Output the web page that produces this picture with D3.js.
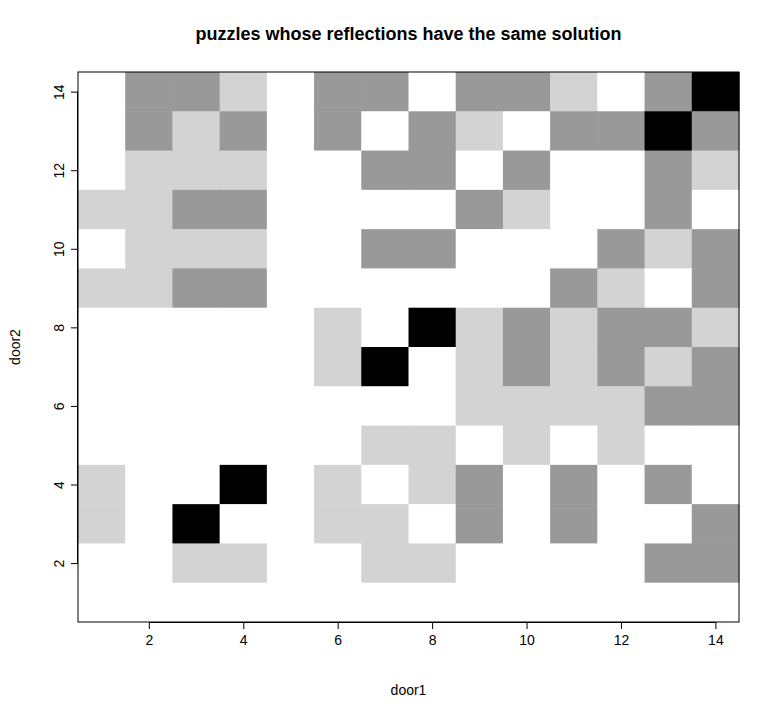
<!DOCTYPE html>
<html><head><meta charset="utf-8">
<script src="https://cdn.jsdelivr.net/npm/d3@7"></script>
<style>body{margin:0;background:#fff;font-family:"Liberation Sans",Arial,sans-serif}</style>
</head><body>
<script>
// rows listed from door2 = 14 down to door2 = 1; 0 white, 1 light, 2 gray, 3 black
const door1 = d3.range(1, 15);
const door2 = d3.range(14, 0, -1);
const levels = [
  "02210220221023",
  "02120202102232",
  "01110022020021",
  "11220000210020",
  "01110022000212",
  "11220000002102",
  "00000103121221",
  "00000130121212",
  "00000000111122",
  "00000011010100",
  "10030101202020",
  "10300110202002",
  "00110011000022",
  "00000000000000"
];
const palette = ["#ffffff", "#d3d3d3", "#999999", "#000000"];
const xTicks = [2, 4, 6, 8, 10, 12, 14];
const yTicks = [2, 4, 6, 8, 10, 12, 14];

const W = 765, H = 711, L = 78, R = 739, T = 72, B = 622;
const svg = d3.select("body").append("svg").attr("width", W).attr("height", H);
const x = d3.scaleLinear().domain([0.5, 14.5]).range([L, R]);
const y = d3.scaleLinear().domain([0.5, 14.5]).range([B, T]);

const cells = [];
door2.forEach((d2, r) => door1.forEach((d1, c) => cells.push({d1, d2, v: +levels[r][c]})));
svg.selectAll("rect.cell").data(cells).enter().append("rect")
  .attr("x", d => x(d.d1 - 0.5)).attr("y", d => y(d.d2 + 0.5))
  .attr("width", x(1.5) - x(0.5) + 0.5).attr("height", y(0.5) - y(1.5) + 0.5)
  .attr("fill", d => palette[d.v]);

svg.append("rect").attr("x", L).attr("y", T).attr("width", R - L).attr("height", B - T)
  .attr("fill", "none").attr("stroke", "#000");

svg.append("g").attr("transform", `translate(0,${B})`)
  .call(d3.axisBottom(x).tickValues(xTicks).tickSize(7).tickPadding(6))
  .call(g => g.select(".domain").attr("d", `M${x(2)},0.5H${x(14)}`))
  .selectAll("text").attr("font-size", 14).attr("font-family", "Liberation Sans, Arial");
svg.append("g").attr("transform", `translate(${L},0)`)
  .call(d3.axisLeft(y).tickValues(yTicks).tickSize(7).tickPadding(6).tickFormat(d3.format("d")))
  .call(g => g.select(".domain").attr("d", `M-0.5,${y(2)}V${y(14)}`))
  .selectAll("text").attr("font-size", 14).attr("font-family", "Liberation Sans, Arial")
  .attr("transform", function(d){ return `rotate(-90,${-13},${y(d)})`; })
  .attr("text-anchor", "middle").attr("x", -13).attr("dy", "0.32em").attr("y", y(0) - y(0));

svg.selectAll("g text").filter(function(){ return this.parentNode.parentNode.getAttribute("transform") === `translate(${L},0)`; })
  .attr("x", -18).attr("y", 0)
  .attr("transform", function(d){ return `translate(0,${0}) rotate(-90,-18,0)`; });

svg.append("text").attr("x", (L + R) / 2).attr("y", 40).attr("text-anchor", "middle")
  .attr("font-size", 18).attr("font-weight", "bold").text("puzzles whose reflections have the same solution");
svg.append("text").attr("x", (L + R) / 2).attr("y", 695).attr("text-anchor", "middle")
  .attr("font-size", 14).text("door1");
svg.append("text").attr("transform", `translate(20,${(T + B) / 2}) rotate(-90)`).attr("text-anchor", "middle")
  .attr("font-size", 14).text("door2");
</script>
</body></html>
